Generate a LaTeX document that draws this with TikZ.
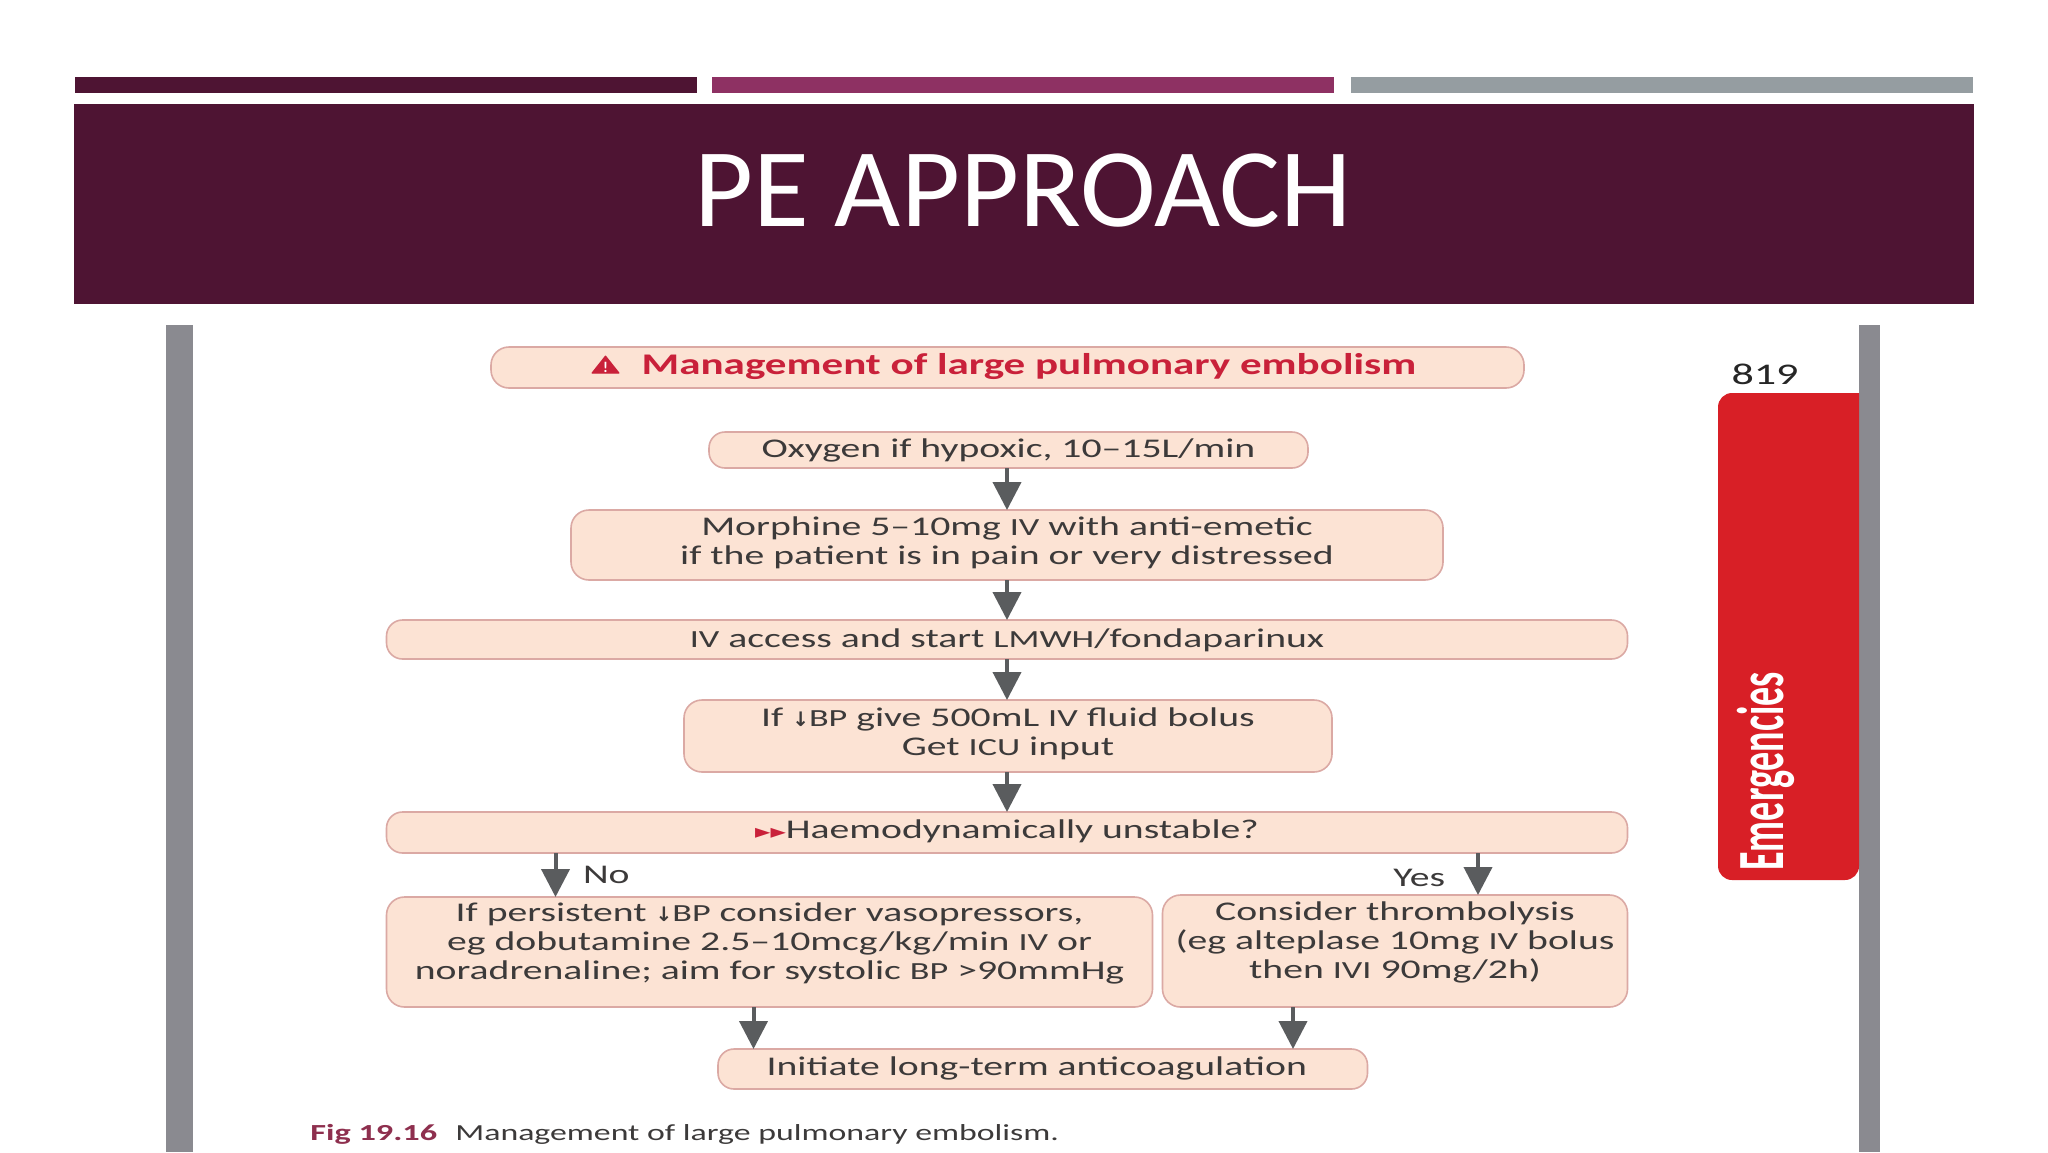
\documentclass[tikz,border=0pt]{standalone}
\usepackage{fontspec}
\usetikzlibrary{arrows.meta}
\setmainfont{Carlito}
\newfontfamily\bodyf[FakeStretch=1.47]{Carlito}
\newfontfamily\headf[FakeStretch=1.435]{Carlito Bold}
\newfontfamily\figf[FakeStretch=1.49]{Carlito Bold}
\newfontfamily\titlef[FakeStretch=1.02]{Carlito}
\newfontfamily\tabf[FakeStretch=0.577]{Carlito Bold}
\newfontfamily\symf{DejaVu Sans}
\newfontfamily\symbf{DejaVu Sans Bold}
\definecolor{plum}{HTML}{4E1433}
\definecolor{magentabar}{HTML}{8E3163}
\definecolor{greybar}{HTML}{959DA1}
\definecolor{edgegrey}{HTML}{8A8A90}
\definecolor{tabred}{HTML}{D81F26}
\definecolor{boxfill}{HTML}{FCE3D4}
\definecolor{boxline}{HTML}{DBA9A4}
\definecolor{ink}{HTML}{3C3A3A}
\definecolor{arrowgrey}{HTML}{5A5C5E}
\definecolor{headred}{HTML}{C9213A}
\definecolor{figmaroon}{HTML}{8E2F4E}
\tikzset{
  pbox/.style={draw=boxline,line width=0.8pt,fill=boxfill,rounded corners=9pt,inner sep=0pt,outer sep=0pt,text=ink,font=\bodyf\fontsize{13.5pt}{14.6pt}\selectfont,align=center},
  flow/.style={draw=arrowgrey,line width=2pt,-{Triangle[length=14pt,width=14pt,fill=arrowgrey]}},
  lab/.style={inner sep=0pt,outer sep=0pt,text=ink,font=\bodyf\fontsize{13.5pt}{14.6pt}\selectfont},
}
\newcommand\pnode[7][]{\node[pbox,minimum width={(#5-#3)*0.5pt},minimum height={(#6-#4)*0.5pt},#1] (#2) at ({(#3+#5)/2},{(#4+#6)/2}) {#7};}
\newcommand\boxtxt[2]{\raisebox{#1}[0pt][0pt]{\begin{tabular}{@{}c@{}}#2\end{tabular}}}
\newcommand\sm[1]{{\fontsize{12.3pt}{13pt}\selectfont #1}}
\newcommand\dn{{\symbf\fontsize{10pt}{11pt}\selectfont ↓}}
\begin{document}
\begin{tikzpicture}[x=0.5pt,y=-0.5pt]
\useasboundingbox (0,0) rectangle (2048,1152);
\fill[white] (0,0) rectangle (2048,1152);
% slide furniture
\fill[plum] (74.5,77) rectangle (697,93);
\fill[magentabar] (712,77) rectangle (1334,93);
\fill[greybar] (1351,77) rectangle (1973,93);
\fill[plum] (74,103.5) rectangle (1974,303.5);
\node[inner sep=0pt,text=white,font=\titlef\fontsize{56pt}{60pt}\selectfont,anchor=base] (title) at (1023,226) {PE APPROACH};
% page edges
\fill[edgegrey] (166,325) rectangle (193,1152);
\fill[edgegrey] (1859,325) rectangle (1880,1152);
% tab
\fill[tabred,rounded corners=7pt] (1859,393) -- (1718,393) -- (1718,880) -- (1859,880) [sharp corners] -- cycle;
\node[inner sep=0pt,text=white,font=\tabf\fontsize{33pt}{36pt}\selectfont,rotate=90,anchor=base west] (tabtext) at (1783,871) {Emergencies};
\node[inner sep=0pt,text=black!85,font=\bodyf\fontsize{15pt}{16pt}\selectfont,anchor=base] (pageno) at (1765,384) {819};
% boxes
\pnode{head}{491}{347}{1524}{388}{}
\node[inner sep=0pt,text=headred,font=\headf\fontsize{15pt}{16pt}\selectfont,anchor=base] (headtext) at (1029,374) {Management of large pulmonary embolism};
\fill[headred,line join=round,draw=headred,line width=0.5pt] (605.5,356) -- (592,373) -- (619,373) -- cycle;
\node[inner sep=0pt,text=white,font=\bfseries\fontsize{7.5pt}{8pt}\selectfont,anchor=base] (warn) at (605.5,372) {!};
\pnode[rounded corners=8pt]{oxy}{709}{432}{1308}{468}{\boxtxt{-4.5pt}{Oxygen if hypoxic, 10–15L/min}}
\pnode{mor}{571}{510}{1443}{580}{\boxtxt{-3.2pt}{Morphine 5–10mg \sm{IV} with anti-emetic\\if the patient is in pain or very distressed}}
\pnode[rounded corners=8pt]{iv}{386.5}{620}{1627.5}{659}{\boxtxt{-4.5pt}{\sm{IV} access and start \sm{LMWH}/fondaparinux}}
\pnode{bp}{684}{700}{1332}{772}{\boxtxt{-3.2pt}{If \dn\sm{BP} give 500mL \sm{IV} fluid bolus\\Get \sm{ICU} input}}
\pnode[rounded corners=8pt]{haemo}{386.5}{812}{1627.5}{853}{\boxtxt{-3.9pt}{{\symf\color{headred}\fontsize{10pt}{11pt}\selectfont ►►}Haemodynamically unstable?}}
\pnode{nobox}{386.5}{897}{1152.5}{1007}{\boxtxt{0.2pt}{If persistent \dn\sm{BP} consider vasopressors,\\eg dobutamine 2.5–10mcg/kg/min \sm{IV} or\\noradrenaline; aim for systolic \sm{BP} >90mmHg}}
\pnode{yesbox}{1162.5}{895}{1627.5}{1007}{\boxtxt{0pt}{Consider thrombolysis\\(eg alteplase 10mg \sm{IV} bolus\\then \sm{IVI} 90mg/2h)}}
\pnode[rounded corners=8pt]{longterm}{718}{1049}{1367.5}{1089}{\boxtxt{-3.9pt}{\hspace*{-6pt}Initiate long-term anticoagulation}}
% arrow columns
\coordinate (colmid) at (1007,0);
\coordinate (colno) at (555.5,0);
\coordinate (colyes) at (1478,0);
\coordinate (colleft) at (753.5,0);
\coordinate (colright) at (1293,0);
\draw[flow] (oxy.south -| colmid) -- (mor.north -| colmid);
\draw[flow] (mor.south -| colmid) -- (iv.north -| colmid);
\draw[flow] (iv.south -| colmid) -- (bp.north -| colmid);
\draw[flow] (bp.south -| colmid) -- (haemo.north -| colmid);
\draw[flow] (haemo.south -| colno) -- (nobox.north -| colno);
\draw[flow] (haemo.south -| colyes) -- (yesbox.north -| colyes);
\draw[flow] (nobox.south -| colleft) -- (longterm.north -| colleft);
\draw[flow] (yesbox.south -| colright) -- (longterm.north -| colright);
\node[lab,anchor=base west] (nolabel) at (583,883) {No};
\node[lab,anchor=base east] (yeslabel) at (1445,886) {Yes};
% caption
\node[inner sep=0pt,text=figmaroon,font=\figf\fontsize{11.5pt}{14pt}\selectfont,anchor=base west] (figno) at (310,1140) {Fig 19.16};
\node[inner sep=0pt,text=ink,font=\bodyf\fontsize{11.5pt}{14pt}\selectfont,anchor=base west] (figcap) at (455,1140) {Management of large pulmonary embolism.};
\end{tikzpicture}
\end{document}
